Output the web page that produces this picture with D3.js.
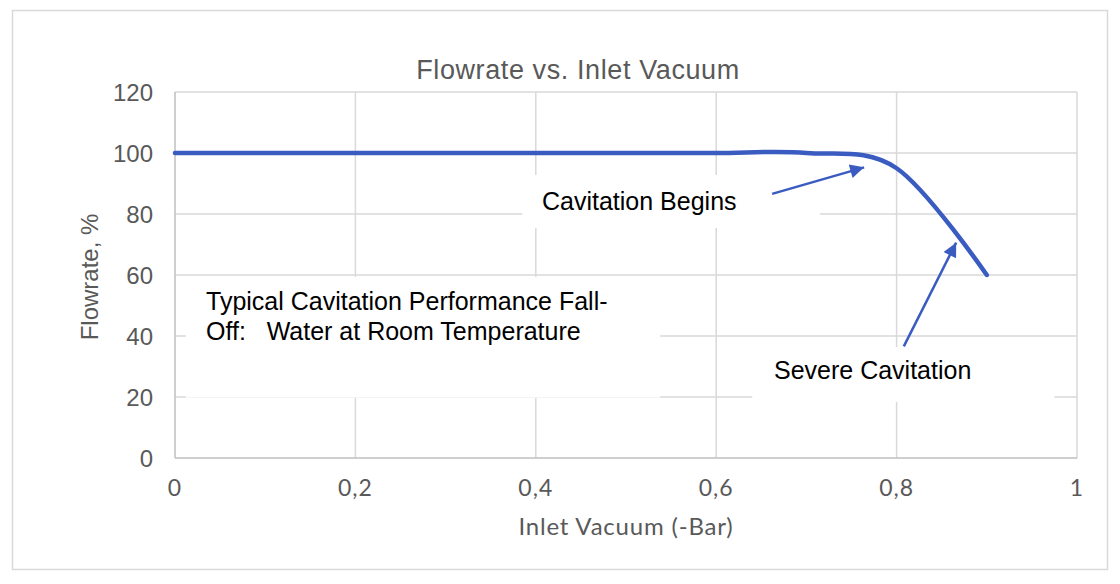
<!DOCTYPE html>
<html>
<head>
<meta charset="utf-8">
<script src="https://cdn.jsdelivr.net/npm/d3@7"></script>
<style>
  body { margin: 0; background: #fff; }
  text { font-family: "Liberation Sans", Arial, sans-serif; }
</style>
</head>
<body>
<svg id="chart" width="1120" height="584"></svg>
<script>
// Chart data
const vacuum = [0, 0.1, 0.2, 0.3, 0.4, 0.5, 0.6, 0.7, 0.8, 0.9];
const flowrate = [100, 100, 100, 100, 100, 100, 100, 100, 95, 60];
const xTicks = [0, 0.2, 0.4, 0.6, 0.8, 1];
const yTicks = [0, 20, 40, 60, 80, 100, 120];

// Annotation text boxes (data coordinates) and their arrows
const noteBoxes = [
  { x0: 0.385, x1: 0.715, y0: 92.8, y1: 75.4 },
  { x0: 0.012, x1: 0.538, y0: 59.4, y1: 19.8 },
  { x0: 0.64, x1: 0.975, y0: 36.4, y1: 18.4 }
];
const noteArrows = [
  { from: [0.662, 86.6], to: [0.764, 95.3] },
  { from: [0.808, 36.6], to: [0.866, 70.6] }
];

const svg = d3.select("#chart");
const blue = "#3a5cc0";
const grey = "#595959";

const x = d3.scaleLinear().domain([0, 1]).range([175, 1077]);
const y = d3.scaleLinear().domain([0, 120]).range([458, 92]);

// Outer chart border
svg.append("rect")
  .attr("x", 12.5).attr("y", 10.5)
  .attr("width", 1095).attr("height", 559)
  .attr("fill", "#fff")
  .attr("stroke", "#d9d9d9")
  .attr("stroke-width", 1.5);

// Gridlines
svg.append("g")
  .selectAll("line")
  .data(yTicks.slice(1))
  .join("line")
  .attr("x1", x(0)).attr("x2", x(1))
  .attr("y1", d => y(d)).attr("y2", d => y(d))
  .attr("stroke", "#d9d9d9")
  .attr("stroke-width", 1.5);

svg.append("g")
  .selectAll("line")
  .data(xTicks.slice(1))
  .join("line")
  .attr("x1", d => x(d)).attr("x2", d => x(d))
  .attr("y1", y(0)).attr("y2", y(120))
  .attr("stroke", "#d9d9d9")
  .attr("stroke-width", 1.5);

// Axis lines
svg.append("line")
  .attr("x1", x(0)).attr("x2", x(0))
  .attr("y1", y(0)).attr("y2", y(120))
  .attr("stroke", "#bfbfbf").attr("stroke-width", 1.5);
svg.append("line")
  .attr("x1", x(0)).attr("x2", x(1))
  .attr("y1", y(0)).attr("y2", y(0))
  .attr("stroke", "#bfbfbf").attr("stroke-width", 1.5);

// Tick labels
svg.append("g")
  .selectAll("text")
  .data(yTicks)
  .join("text")
  .attr("x", 153)
  .attr("y", d => y(d))
  .attr("dy", "0.36em")
  .attr("text-anchor", "end")
  .attr("fill", grey)
  .style("font-size", "24px")
  .text(d => d);

svg.append("g")
  .selectAll("text")
  .data(xTicks)
  .join("text")
  .attr("x", d => x(d))
  .attr("y", 496)
  .attr("text-anchor", "middle")
  .attr("fill", grey)
  .style("font-family", "Lato, 'Open Sans', sans-serif")
  .style("font-size", "23px")
  .style("letter-spacing", "1px")
  .text(d => String(d).replace(".", ","));

// Titles
svg.append("text")
  .attr("x", 578).attr("y", 79)
  .attr("text-anchor", "middle")
  .attr("fill", grey)
  .style("font-size", "27px")
  .style("letter-spacing", "0.6px")
  .text("Flowrate vs. Inlet Vacuum");

svg.append("text")
  .attr("x", 626).attr("y", 535)
  .attr("text-anchor", "middle")
  .attr("fill", grey)
  .style("font-family", "Lato, 'Open Sans', sans-serif")
  .style("font-size", "24px")
  .style("letter-spacing", "0.8px")
  .text("Inlet Vacuum (-Bar)");

svg.append("text")
  .attr("transform", "translate(98,277) rotate(-90)")
  .attr("text-anchor", "middle")
  .attr("fill", grey)
  .style("font-size", "24px")
  .text("Flowrate, %");

// White note boxes (hide gridlines behind text)
svg.append("g")
  .selectAll("rect")
  .data(noteBoxes)
  .join("rect")
  .attr("x", d => x(d.x0))
  .attr("y", d => y(d.y0))
  .attr("width", d => x(d.x1) - x(d.x0))
  .attr("height", d => y(d.y1) - y(d.y0))
  .attr("fill", "#fff");

// Flowrate curve
const line = d3.line()
  .x((d, i) => x(vacuum[i]))
  .y(d => y(d))
  .curve(d3.curveCardinal.tension(0));

svg.append("path")
  .datum(flowrate)
  .attr("d", line)
  .attr("fill", "none")
  .attr("stroke", blue)
  .attr("stroke-width", 4.5)
  .attr("stroke-linecap", "round");

// Arrow marker
svg.append("defs")
  .append("marker")
  .attr("id", "arrow")
  .attr("viewBox", "0 0 10 10")
  .attr("refX", 10)
  .attr("refY", 5)
  .attr("markerUnits", "userSpaceOnUse")
  .attr("markerWidth", 17)
  .attr("markerHeight", 14)
  .attr("orient", "auto")
  .append("path")
  .attr("d", "M 0 0 L 10 5 L 0 10 Z")
  .attr("fill", blue);

svg.append("g")
  .selectAll("line")
  .data(noteArrows)
  .join("line")
  .attr("x1", d => x(d.from[0])).attr("y1", d => y(d.from[1]))
  .attr("x2", d => x(d.to[0])).attr("y2", d => y(d.to[1]))
  .attr("stroke", blue)
  .attr("stroke-width", 2.5)
  .attr("marker-end", "url(#arrow)");

// Annotation text
svg.append("text")
  .attr("x", 542).attr("y", 210)
  .attr("fill", "#000")
  .style("font-size", "25px")
  .text("Cavitation Begins");

const note = svg.append("text")
  .attr("fill", "#000")
  .style("font-size", "25px");
note.append("tspan").attr("x", 206).attr("y", 310)
  .text("Typical Cavitation Performance Fall-");
note.append("tspan").attr("x", 206).attr("y", 340)
  .attr("xml:space", "preserve")
  .style("white-space", "pre")
  .text("Off:   Water at Room Temperature");

svg.append("text")
  .attr("x", 774).attr("y", 379)
  .attr("fill", "#000")
  .style("font-size", "25px")
  .text("Severe Cavitation");
</script>
</body>
</html>
